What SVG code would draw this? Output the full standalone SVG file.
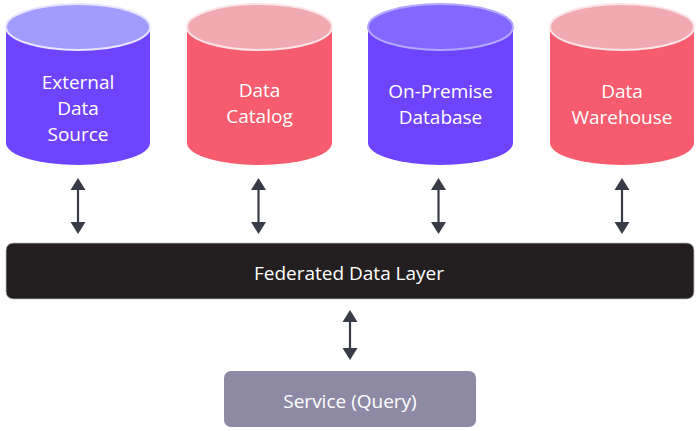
<svg xmlns="http://www.w3.org/2000/svg" width="700" height="431" viewBox="0 0 700 431">
<defs>
<style>
.purple{fill:#6f44ff}
.red{fill:#f65c6d}
.lbl{font-family:"Open Sans","Noto Sans",sans-serif;font-size:19px;fill:#ffffff;text-anchor:middle}
.arrow{stroke:#393c46;stroke-width:2.2;fill:none}
.head{fill:#393c46}
</style>
</defs>
<rect width="700" height="431" fill="#ffffff"/>
<g id="external-data-source">
<path class="purple" d="M6,27 L6,143 A72,22 0 0 0 150,143 L150,27 Z"/>
<ellipse cx="78" cy="27" rx="72" ry="23" fill="#a39cff" stroke="#e8e4ff" stroke-width="2"/>
<text class="lbl" x="78" y="89">External</text>
<text class="lbl" x="78" y="115">Data</text>
<text class="lbl" x="78" y="141">Source</text>
</g>
<g id="data-catalog">
<path class="red" d="M187,27 L187,143 A72.5,22 0 0 0 332,143 L332,27 Z"/>
<ellipse cx="259.5" cy="27" rx="72.5" ry="23" fill="#f2aab2" stroke="#fbe4e7" stroke-width="2"/>
<text class="lbl" x="259.5" y="97">Data</text>
<text class="lbl" x="259.5" y="123">Catalog</text>
</g>
<g id="on-premise-database">
<path class="purple" d="M368,27 L368,143 A72.5,22 0 0 0 513,143 L513,27 Z"/>
<ellipse cx="440.5" cy="27" rx="72.5" ry="23" fill="#8467ff" stroke="#b3a7ff" stroke-width="2"/>
<text class="lbl" x="440.5" y="98">On-Premise</text>
<text class="lbl" x="440.5" y="124">Database</text>
</g>
<g id="data-warehouse">
<path class="red" d="M550,27 L550,143 A72,22 0 0 0 694,143 L694,27 Z"/>
<ellipse cx="622" cy="27" rx="72" ry="23" fill="#f2aab2" stroke="#fbe4e7" stroke-width="2"/>
<text class="lbl" x="622" y="98">Data</text>
<text class="lbl" x="622" y="124">Warehouse</text>
</g>
<g id="federated-data-layer">
<rect x="6" y="243" width="688" height="56" rx="7" fill="#231f20" stroke="#bdbdbd" stroke-width="0.8"/>
<text class="lbl" x="349" y="280" style="font-size:19px">Federated Data Layer</text>
</g>
<g id="service-query">
<rect x="224" y="371" width="252" height="56" rx="7" fill="#8e8aa6"/>
<text class="lbl" x="350" y="408" style="font-size:19px">Service (Query)</text>
</g>
<g id="connectors">
<g>
<line class="arrow" x1="78" y1="188" x2="78" y2="224"/>
<path class="head" d="M78,178 L70.5,190 L85.5,190 Z"/>
<path class="head" d="M78,234 L70.5,222 L85.5,222 Z"/>
</g>
<g>
<line class="arrow" x1="258.5" y1="188" x2="258.5" y2="224"/>
<path class="head" d="M258.5,178 L251,190 L266,190 Z"/>
<path class="head" d="M258.5,234 L251,222 L266,222 Z"/>
</g>
<g>
<line class="arrow" x1="438.5" y1="188" x2="438.5" y2="224"/>
<path class="head" d="M438.5,178 L431,190 L446,190 Z"/>
<path class="head" d="M438.5,234 L431,222 L446,222 Z"/>
</g>
<g>
<line class="arrow" x1="622" y1="188" x2="622" y2="224"/>
<path class="head" d="M622,178 L614.5,190 L629.5,190 Z"/>
<path class="head" d="M622,234 L614.5,222 L629.5,222 Z"/>
</g>
<g>
<line class="arrow" x1="350" y1="320" x2="350" y2="350"/>
<path class="head" d="M350,310 L342.5,322 L357.5,322 Z"/>
<path class="head" d="M350,360 L342.5,348 L357.5,348 Z"/>
</g>
</g>
</svg>
